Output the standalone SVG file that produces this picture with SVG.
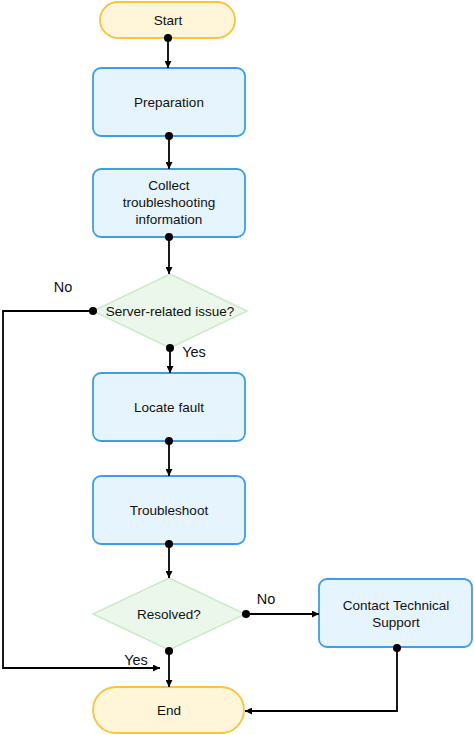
<svg xmlns="http://www.w3.org/2000/svg" width="474" height="735" viewBox="0 0 474 735">
<defs>
<marker id="arr" viewBox="0 0 10 10" refX="10" refY="5" markerWidth="7" markerHeight="7" markerUnits="userSpaceOnUse" orient="auto"><path d="M0,0 L10,5 L0,10 z" fill="#000"/></marker>
<marker id="dot" viewBox="0 0 10 10" refX="5" refY="5" markerWidth="8" markerHeight="8" markerUnits="userSpaceOnUse"><circle cx="5" cy="5" r="5" fill="#000"/></marker>
<style>
.term{fill:#fff5d9;stroke:#f6c343;stroke-width:1.8}
.proc{fill:#e6f4fd;stroke:#3d9ee3;stroke-width:1.8}
.dec{fill:#eaf7ea;stroke:#cbe9cb;stroke-width:1.5}
text{font-family:"Liberation Sans",Arial,sans-serif;font-size:13.5px;fill:#111;text-anchor:middle}
.lbl{font-size:14.5px}
.c{fill:none;stroke:#000;stroke-width:1.8;marker-start:url(#dot);marker-end:url(#arr)}
</style>
</defs>
<rect width="474" height="735" fill="#fff"/>
<g id="start"><rect class="term" x="100" y="2" width="135" height="36" rx="18"/><text x="168" y="25">Start</text></g>
<g id="prep"><rect class="proc" x="93" y="68" width="152" height="68" rx="8"/><text x="169" y="107">Preparation</text></g>
<g id="collect"><rect class="proc" x="93" y="169" width="152" height="68" rx="8"/><text x="169" y="190">Collect</text><text x="169" y="207">troubleshooting</text><text x="169" y="224">information</text></g>
<g id="server"><polygon class="dec" points="170,274 247,311 170,348 93,311"/><text x="170" y="316">Server-related issue?</text></g>
<g id="locate"><rect class="proc" x="93" y="373" width="152" height="68" rx="8"/><text x="169" y="412">Locate fault</text></g>
<g id="trouble"><rect class="proc" x="93" y="476" width="152" height="68" rx="8"/><text x="169" y="515">Troubleshoot</text></g>
<g id="resolved"><polygon class="dec" points="169,578 245,614 169,650 93,614"/><text x="169" y="619">Resolved?</text></g>
<g id="contact"><rect class="proc" x="319" y="579" width="153" height="68" rx="8"/><text x="396" y="610">Contact Technical</text><text x="396" y="627">Support</text></g>
<g id="end"><rect class="term" x="93" y="687" width="151" height="46" rx="23"/><text x="169" y="715">End</text></g>
<g id="connectors">
<path class="c" d="M168,38 V68"/>
<path class="c" d="M169,136 V169"/>
<path class="c" d="M169,237 V274"/>
<path class="c" d="M170,348 V373"/>
<path class="c" d="M169,441 V476"/>
<path class="c" d="M169,544 V578"/>
<path class="c" d="M93,311 H3 V668 H160"/>
<path class="c" d="M246,614 H319"/>
<path class="c" d="M169,651 V687"/>
<path class="c" d="M397,648 V711 H245"/>
<text class="lbl" x="63" y="292">No</text>
<text class="lbl" x="194" y="357">Yes</text>
<text class="lbl" x="266" y="604">No</text>
<text class="lbl" x="136" y="665">Yes</text>
</g>
</svg>
